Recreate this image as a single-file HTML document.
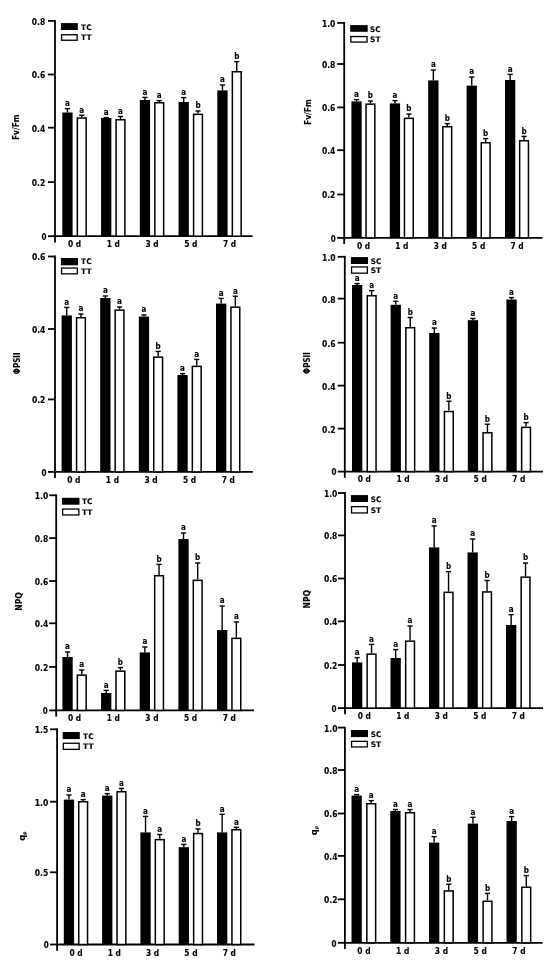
<!DOCTYPE html>
<html><head><meta charset="utf-8"><title>Chlorophyll fluorescence</title>
<style>
html,body{margin:0;padding:0;background:#fff;}
body{width:550px;height:962px;overflow:hidden;}
svg{display:block;}
.ax{stroke:#000;stroke-width:1.8;}
.eb{stroke:#000;stroke-width:1.4;}
text{font-family:"DejaVu Sans Condensed", "DejaVu Sans", "Liberation Sans", sans-serif;font-weight:bold;font-stretch:condensed;fill:#000;stroke:#000;stroke-width:0.1px;}
.tl{font-size:8px;}
.z{font-size:8px;text-anchor:end;}
.lt{font-size:8px;text-anchor:middle;}
.xl{font-size:8.5px;}
.lg{font-size:7.6px;}
.tt{font-size:8.6px;}
.sub{font-size:4.6px;}
</style></head>
<body>
<svg width="550" height="962" viewBox="0 0 550 962">
<rect width="550" height="962" fill="#fff"/>
<line x1="55.0" y1="20.00" x2="55.0" y2="242.40" class="ax"/>
<line x1="54.10" y1="236.2" x2="252.6" y2="236.2" class="ax"/>
<line x1="48.00" y1="236.20" x2="55.0" y2="236.20" class="ax"/>
<text x="46.60" y="240.00" class="tl z">0</text>
<line x1="48.00" y1="182.10" x2="55.0" y2="182.10" class="ax"/>
<text x="31.70" y="186.00" class="tl" textLength="13.5" lengthAdjust="spacingAndGlyphs">0.2</text>
<line x1="48.00" y1="127.70" x2="55.0" y2="127.70" class="ax"/>
<text x="31.70" y="131.60" class="tl" textLength="13.5" lengthAdjust="spacingAndGlyphs">0.4</text>
<line x1="48.00" y1="74.50" x2="55.0" y2="74.50" class="ax"/>
<text x="31.70" y="78.40" class="tl" textLength="13.5" lengthAdjust="spacingAndGlyphs">0.6</text>
<line x1="48.00" y1="20.90" x2="55.0" y2="20.90" class="ax"/>
<text x="31.70" y="24.80" class="tl" textLength="13.5" lengthAdjust="spacingAndGlyphs">0.8</text>
<rect x="62.30" y="112.50" width="10.3" height="123.70" fill="#000"/>
<rect x="77.35" y="118.05" width="8.80" height="118.15" fill="#fff" stroke="#000" stroke-width="1.5"/>
<line x1="67.45" y1="112.50" x2="67.45" y2="108.60" class="eb"/>
<line x1="64.85" y1="108.60" x2="70.05" y2="108.60" class="eb"/>
<text x="67.45" y="105.90" class="lt">a</text>
<line x1="81.75" y1="117.30" x2="81.75" y2="115.20" class="eb"/>
<line x1="79.15" y1="115.20" x2="84.35" y2="115.20" class="eb"/>
<text x="81.75" y="112.50" class="lt">a</text>
<text x="68.00" y="246.80" class="xl" textLength="13.2" lengthAdjust="spacingAndGlyphs">0 d</text>
<rect x="101.05" y="118.00" width="10.3" height="118.20" fill="#000"/>
<rect x="116.10" y="119.75" width="8.80" height="116.45" fill="#fff" stroke="#000" stroke-width="1.5"/>
<line x1="106.20" y1="118.00" x2="106.20" y2="117.60" class="eb"/>
<line x1="103.60" y1="117.60" x2="108.80" y2="117.60" class="eb"/>
<text x="106.20" y="114.90" class="lt">a</text>
<line x1="120.50" y1="119.00" x2="120.50" y2="116.45" class="eb"/>
<line x1="117.90" y1="116.45" x2="123.10" y2="116.45" class="eb"/>
<text x="120.50" y="113.75" class="lt">a</text>
<text x="106.75" y="246.80" class="xl" textLength="13.2" lengthAdjust="spacingAndGlyphs">1 d</text>
<rect x="139.80" y="100.00" width="10.3" height="136.20" fill="#000"/>
<rect x="154.85" y="102.75" width="8.80" height="133.45" fill="#fff" stroke="#000" stroke-width="1.5"/>
<line x1="144.95" y1="100.00" x2="144.95" y2="97.40" class="eb"/>
<line x1="142.35" y1="97.40" x2="147.55" y2="97.40" class="eb"/>
<text x="144.95" y="94.70" class="lt">a</text>
<line x1="159.25" y1="102.00" x2="159.25" y2="100.60" class="eb"/>
<line x1="156.65" y1="100.60" x2="161.85" y2="100.60" class="eb"/>
<text x="159.25" y="97.90" class="lt">a</text>
<text x="145.50" y="246.80" class="xl" textLength="13.2" lengthAdjust="spacingAndGlyphs">3 d</text>
<rect x="178.55" y="102.00" width="10.3" height="134.20" fill="#000"/>
<rect x="193.60" y="114.35" width="8.80" height="121.85" fill="#fff" stroke="#000" stroke-width="1.5"/>
<line x1="183.70" y1="102.00" x2="183.70" y2="97.60" class="eb"/>
<line x1="181.10" y1="97.60" x2="186.30" y2="97.60" class="eb"/>
<text x="183.70" y="94.90" class="lt">a</text>
<line x1="198.00" y1="113.60" x2="198.00" y2="111.00" class="eb"/>
<line x1="195.40" y1="111.00" x2="200.60" y2="111.00" class="eb"/>
<text x="198.00" y="108.30" class="lt">b</text>
<text x="184.25" y="246.80" class="xl" textLength="13.2" lengthAdjust="spacingAndGlyphs">5 d</text>
<rect x="217.30" y="90.40" width="10.3" height="145.80" fill="#000"/>
<rect x="232.35" y="71.75" width="8.80" height="164.45" fill="#fff" stroke="#000" stroke-width="1.5"/>
<line x1="222.45" y1="90.40" x2="222.45" y2="85.00" class="eb"/>
<line x1="219.85" y1="85.00" x2="225.05" y2="85.00" class="eb"/>
<text x="222.45" y="82.30" class="lt">a</text>
<line x1="236.75" y1="71.00" x2="236.75" y2="61.60" class="eb"/>
<line x1="234.15" y1="61.60" x2="239.35" y2="61.60" class="eb"/>
<text x="236.75" y="58.90" class="lt">b</text>
<text x="223.00" y="246.80" class="xl" textLength="13.2" lengthAdjust="spacingAndGlyphs">7 d</text>
<rect x="60.9" y="23.1" width="16.90" height="6.90" fill="#000"/>
<rect x="61.55" y="34.75" width="15.60" height="5.50" fill="#fff" stroke="#000" stroke-width="1.3"/>
<text x="81.10" y="29.8" class="lg" textLength="10.5" lengthAdjust="spacingAndGlyphs">TC</text>
<text x="81.10" y="40.2" class="lg" textLength="10.5" lengthAdjust="spacingAndGlyphs">TT</text>
<text transform="translate(19.30,127.25) rotate(-90)" x="-12.80" class="tt" textLength="25.6" lengthAdjust="spacingAndGlyphs">Fv/Fm</text>
<line x1="344.2" y1="22.00" x2="344.2" y2="244.10" class="ax"/>
<line x1="343.30" y1="237.9" x2="542.4" y2="237.9" class="ax"/>
<line x1="337.20" y1="237.90" x2="344.2" y2="237.90" class="ax"/>
<text x="335.80" y="241.70" class="tl z">0</text>
<line x1="337.20" y1="194.50" x2="344.2" y2="194.50" class="ax"/>
<text x="321.90" y="198.40" class="tl" textLength="13.5" lengthAdjust="spacingAndGlyphs">0.2</text>
<line x1="337.20" y1="150.20" x2="344.2" y2="150.20" class="ax"/>
<text x="321.90" y="154.10" class="tl" textLength="13.5" lengthAdjust="spacingAndGlyphs">0.4</text>
<line x1="337.20" y1="107.40" x2="344.2" y2="107.40" class="ax"/>
<text x="321.90" y="111.30" class="tl" textLength="13.5" lengthAdjust="spacingAndGlyphs">0.6</text>
<line x1="337.20" y1="64.00" x2="344.2" y2="64.00" class="ax"/>
<text x="321.90" y="67.90" class="tl" textLength="13.5" lengthAdjust="spacingAndGlyphs">0.8</text>
<line x1="337.20" y1="22.90" x2="344.2" y2="22.90" class="ax"/>
<text x="321.90" y="26.80" class="tl" textLength="13.5" lengthAdjust="spacingAndGlyphs">1.0</text>
<rect x="351.40" y="101.40" width="10.3" height="136.50" fill="#000"/>
<rect x="366.05" y="104.15" width="8.80" height="133.75" fill="#fff" stroke="#000" stroke-width="1.5"/>
<line x1="356.55" y1="101.40" x2="356.55" y2="99.60" class="eb"/>
<line x1="353.95" y1="99.60" x2="359.15" y2="99.60" class="eb"/>
<text x="356.55" y="96.90" class="lt">a</text>
<line x1="370.45" y1="103.40" x2="370.45" y2="101.00" class="eb"/>
<line x1="367.85" y1="101.00" x2="373.05" y2="101.00" class="eb"/>
<text x="370.45" y="98.30" class="lt">b</text>
<text x="356.90" y="248.50" class="xl" textLength="13.2" lengthAdjust="spacingAndGlyphs">0 d</text>
<rect x="389.80" y="103.40" width="10.3" height="134.50" fill="#000"/>
<rect x="404.45" y="118.35" width="8.80" height="119.55" fill="#fff" stroke="#000" stroke-width="1.5"/>
<line x1="394.95" y1="103.40" x2="394.95" y2="100.60" class="eb"/>
<line x1="392.35" y1="100.60" x2="397.55" y2="100.60" class="eb"/>
<text x="394.95" y="97.90" class="lt">a</text>
<line x1="408.85" y1="117.60" x2="408.85" y2="114.00" class="eb"/>
<line x1="406.25" y1="114.00" x2="411.45" y2="114.00" class="eb"/>
<text x="408.85" y="111.30" class="lt">b</text>
<text x="395.30" y="248.50" class="xl" textLength="13.2" lengthAdjust="spacingAndGlyphs">1 d</text>
<rect x="428.20" y="80.40" width="10.3" height="157.50" fill="#000"/>
<rect x="442.85" y="126.75" width="8.80" height="111.15" fill="#fff" stroke="#000" stroke-width="1.5"/>
<line x1="433.35" y1="80.40" x2="433.35" y2="70.00" class="eb"/>
<line x1="430.75" y1="70.00" x2="435.95" y2="70.00" class="eb"/>
<text x="433.35" y="67.30" class="lt">a</text>
<line x1="447.25" y1="126.00" x2="447.25" y2="123.60" class="eb"/>
<line x1="444.65" y1="123.60" x2="449.85" y2="123.60" class="eb"/>
<text x="447.25" y="120.90" class="lt">b</text>
<text x="433.70" y="248.50" class="xl" textLength="13.2" lengthAdjust="spacingAndGlyphs">3 d</text>
<rect x="466.60" y="85.60" width="10.3" height="152.30" fill="#000"/>
<rect x="481.25" y="142.75" width="8.80" height="95.15" fill="#fff" stroke="#000" stroke-width="1.5"/>
<line x1="471.75" y1="85.60" x2="471.75" y2="77.00" class="eb"/>
<line x1="469.15" y1="77.00" x2="474.35" y2="77.00" class="eb"/>
<text x="471.75" y="74.30" class="lt">a</text>
<line x1="485.65" y1="142.00" x2="485.65" y2="138.60" class="eb"/>
<line x1="483.05" y1="138.60" x2="488.25" y2="138.60" class="eb"/>
<text x="485.65" y="135.90" class="lt">b</text>
<text x="472.10" y="248.50" class="xl" textLength="13.2" lengthAdjust="spacingAndGlyphs">5 d</text>
<rect x="505.00" y="80.00" width="10.3" height="157.90" fill="#000"/>
<rect x="519.65" y="140.75" width="8.80" height="97.15" fill="#fff" stroke="#000" stroke-width="1.5"/>
<line x1="510.15" y1="80.00" x2="510.15" y2="74.40" class="eb"/>
<line x1="507.55" y1="74.40" x2="512.75" y2="74.40" class="eb"/>
<text x="510.15" y="71.70" class="lt">a</text>
<line x1="524.05" y1="140.00" x2="524.05" y2="136.40" class="eb"/>
<line x1="521.45" y1="136.40" x2="526.65" y2="136.40" class="eb"/>
<text x="524.05" y="133.70" class="lt">b</text>
<text x="510.50" y="248.50" class="xl" textLength="13.2" lengthAdjust="spacingAndGlyphs">7 d</text>
<rect x="350.2" y="25.1" width="17.50" height="6.70" fill="#000"/>
<rect x="350.85" y="36.55" width="16.20" height="5.50" fill="#fff" stroke="#000" stroke-width="1.3"/>
<text x="370.00" y="32.0" class="lg" textLength="10.5" lengthAdjust="spacingAndGlyphs">SC</text>
<text x="370.00" y="41.8" class="lg" textLength="10.5" lengthAdjust="spacingAndGlyphs">ST</text>
<text transform="translate(311.00,112.10) rotate(-90)" x="-12.80" class="tt" textLength="25.6" lengthAdjust="spacingAndGlyphs">Fv/Fm</text>
<line x1="55.0" y1="255.60" x2="55.0" y2="478.10" class="ax"/>
<line x1="54.10" y1="471.9" x2="252.9" y2="471.9" class="ax"/>
<line x1="48.00" y1="471.90" x2="55.0" y2="471.90" class="ax"/>
<text x="46.60" y="475.70" class="tl z">0</text>
<line x1="48.00" y1="399.40" x2="55.0" y2="399.40" class="ax"/>
<text x="31.90" y="403.30" class="tl" textLength="13.5" lengthAdjust="spacingAndGlyphs">0.2</text>
<line x1="48.00" y1="329.00" x2="55.0" y2="329.00" class="ax"/>
<text x="31.90" y="332.90" class="tl" textLength="13.5" lengthAdjust="spacingAndGlyphs">0.4</text>
<line x1="48.00" y1="256.50" x2="55.0" y2="256.50" class="ax"/>
<text x="31.90" y="260.40" class="tl" textLength="13.5" lengthAdjust="spacingAndGlyphs">0.6</text>
<rect x="61.60" y="315.40" width="10.3" height="156.50" fill="#000"/>
<rect x="76.55" y="317.75" width="8.80" height="154.15" fill="#fff" stroke="#000" stroke-width="1.5"/>
<line x1="66.75" y1="315.40" x2="66.75" y2="307.40" class="eb"/>
<line x1="64.15" y1="307.40" x2="69.35" y2="307.40" class="eb"/>
<text x="66.75" y="304.70" class="lt">a</text>
<line x1="80.95" y1="317.00" x2="80.95" y2="314.00" class="eb"/>
<line x1="78.35" y1="314.00" x2="83.55" y2="314.00" class="eb"/>
<text x="80.95" y="311.30" class="lt">a</text>
<text x="67.25" y="482.50" class="xl" textLength="13.2" lengthAdjust="spacingAndGlyphs">0 d</text>
<rect x="100.20" y="298.00" width="10.3" height="173.90" fill="#000"/>
<rect x="115.15" y="310.15" width="8.80" height="161.75" fill="#fff" stroke="#000" stroke-width="1.5"/>
<line x1="105.35" y1="298.00" x2="105.35" y2="296.00" class="eb"/>
<line x1="102.75" y1="296.00" x2="107.95" y2="296.00" class="eb"/>
<text x="105.35" y="293.30" class="lt">a</text>
<line x1="119.55" y1="309.40" x2="119.55" y2="307.00" class="eb"/>
<line x1="116.95" y1="307.00" x2="122.15" y2="307.00" class="eb"/>
<text x="119.55" y="304.30" class="lt">a</text>
<text x="105.85" y="482.50" class="xl" textLength="13.2" lengthAdjust="spacingAndGlyphs">1 d</text>
<rect x="138.80" y="316.60" width="10.3" height="155.30" fill="#000"/>
<rect x="153.75" y="357.15" width="8.80" height="114.75" fill="#fff" stroke="#000" stroke-width="1.5"/>
<line x1="143.95" y1="316.60" x2="143.95" y2="315.00" class="eb"/>
<line x1="141.35" y1="315.00" x2="146.55" y2="315.00" class="eb"/>
<text x="143.95" y="312.30" class="lt">a</text>
<line x1="158.15" y1="356.40" x2="158.15" y2="351.40" class="eb"/>
<line x1="155.55" y1="351.40" x2="160.75" y2="351.40" class="eb"/>
<text x="158.15" y="348.70" class="lt">b</text>
<text x="144.45" y="482.50" class="xl" textLength="13.2" lengthAdjust="spacingAndGlyphs">3 d</text>
<rect x="177.40" y="375.00" width="10.3" height="96.90" fill="#000"/>
<rect x="192.35" y="366.35" width="8.80" height="105.55" fill="#fff" stroke="#000" stroke-width="1.5"/>
<line x1="182.55" y1="375.00" x2="182.55" y2="373.60" class="eb"/>
<line x1="179.95" y1="373.60" x2="185.15" y2="373.60" class="eb"/>
<text x="182.55" y="370.90" class="lt">a</text>
<line x1="196.75" y1="365.60" x2="196.75" y2="359.40" class="eb"/>
<line x1="194.15" y1="359.40" x2="199.35" y2="359.40" class="eb"/>
<text x="196.75" y="356.70" class="lt">a</text>
<text x="183.05" y="482.50" class="xl" textLength="13.2" lengthAdjust="spacingAndGlyphs">5 d</text>
<rect x="216.00" y="303.60" width="10.3" height="168.30" fill="#000"/>
<rect x="230.95" y="307.15" width="8.80" height="164.75" fill="#fff" stroke="#000" stroke-width="1.5"/>
<line x1="221.15" y1="303.60" x2="221.15" y2="298.40" class="eb"/>
<line x1="218.55" y1="298.40" x2="223.75" y2="298.40" class="eb"/>
<text x="221.15" y="295.70" class="lt">a</text>
<line x1="235.35" y1="306.40" x2="235.35" y2="296.20" class="eb"/>
<line x1="232.75" y1="296.20" x2="237.95" y2="296.20" class="eb"/>
<text x="235.35" y="293.50" class="lt">a</text>
<text x="221.65" y="482.50" class="xl" textLength="13.2" lengthAdjust="spacingAndGlyphs">7 d</text>
<rect x="60.9" y="258.0" width="17.10" height="7.30" fill="#000"/>
<rect x="61.55" y="268.05" width="15.80" height="5.80" fill="#fff" stroke="#000" stroke-width="1.3"/>
<text x="81.10" y="264.0" class="lg" textLength="10.5" lengthAdjust="spacingAndGlyphs">TC</text>
<text x="81.10" y="273.8" class="lg" textLength="10.5" lengthAdjust="spacingAndGlyphs">TT</text>
<text transform="translate(19.80,363.30) rotate(-90)" x="-10.90" class="tt" textLength="21.8" lengthAdjust="spacingAndGlyphs">ΦPSII</text>
<line x1="344.8" y1="255.90" x2="344.8" y2="477.80" class="ax"/>
<line x1="343.90" y1="471.6" x2="543" y2="471.6" class="ax"/>
<line x1="337.80" y1="471.60" x2="344.8" y2="471.60" class="ax"/>
<text x="336.40" y="475.40" class="tl z">0</text>
<line x1="337.80" y1="428.60" x2="344.8" y2="428.60" class="ax"/>
<text x="322.10" y="432.50" class="tl" textLength="13.5" lengthAdjust="spacingAndGlyphs">0.2</text>
<line x1="337.80" y1="385.60" x2="344.8" y2="385.60" class="ax"/>
<text x="322.10" y="389.50" class="tl" textLength="13.5" lengthAdjust="spacingAndGlyphs">0.4</text>
<line x1="337.80" y1="342.70" x2="344.8" y2="342.70" class="ax"/>
<text x="322.10" y="346.60" class="tl" textLength="13.5" lengthAdjust="spacingAndGlyphs">0.6</text>
<line x1="337.80" y1="298.60" x2="344.8" y2="298.60" class="ax"/>
<text x="322.10" y="302.50" class="tl" textLength="13.5" lengthAdjust="spacingAndGlyphs">0.8</text>
<line x1="337.80" y1="256.80" x2="344.8" y2="256.80" class="ax"/>
<text x="322.10" y="260.70" class="tl" textLength="13.5" lengthAdjust="spacingAndGlyphs">1.0</text>
<rect x="352.00" y="285.00" width="10.3" height="186.60" fill="#000"/>
<rect x="367.25" y="295.75" width="8.80" height="175.85" fill="#fff" stroke="#000" stroke-width="1.5"/>
<line x1="357.15" y1="285.00" x2="357.15" y2="283.60" class="eb"/>
<line x1="354.55" y1="283.60" x2="359.75" y2="283.60" class="eb"/>
<text x="357.15" y="280.90" class="lt">a</text>
<line x1="371.65" y1="295.00" x2="371.65" y2="290.60" class="eb"/>
<line x1="369.05" y1="290.60" x2="374.25" y2="290.60" class="eb"/>
<text x="371.65" y="287.90" class="lt">a</text>
<text x="357.80" y="482.20" class="xl" textLength="13.2" lengthAdjust="spacingAndGlyphs">0 d</text>
<rect x="390.60" y="304.80" width="10.3" height="166.80" fill="#000"/>
<rect x="405.85" y="327.75" width="8.80" height="143.85" fill="#fff" stroke="#000" stroke-width="1.5"/>
<line x1="395.75" y1="304.80" x2="395.75" y2="301.20" class="eb"/>
<line x1="393.15" y1="301.20" x2="398.35" y2="301.20" class="eb"/>
<text x="395.75" y="298.50" class="lt">a</text>
<line x1="410.25" y1="327.00" x2="410.25" y2="317.50" class="eb"/>
<line x1="407.65" y1="317.50" x2="412.85" y2="317.50" class="eb"/>
<text x="410.25" y="314.80" class="lt">b</text>
<text x="396.40" y="482.20" class="xl" textLength="13.2" lengthAdjust="spacingAndGlyphs">1 d</text>
<rect x="429.20" y="333.00" width="10.3" height="138.60" fill="#000"/>
<rect x="444.45" y="411.55" width="8.80" height="60.05" fill="#fff" stroke="#000" stroke-width="1.5"/>
<line x1="434.35" y1="333.00" x2="434.35" y2="328.00" class="eb"/>
<line x1="431.75" y1="328.00" x2="436.95" y2="328.00" class="eb"/>
<text x="434.35" y="325.30" class="lt">a</text>
<line x1="448.85" y1="410.80" x2="448.85" y2="401.20" class="eb"/>
<line x1="446.25" y1="401.20" x2="451.45" y2="401.20" class="eb"/>
<text x="448.85" y="398.50" class="lt">b</text>
<text x="435.00" y="482.20" class="xl" textLength="13.2" lengthAdjust="spacingAndGlyphs">3 d</text>
<rect x="467.80" y="320.20" width="10.3" height="151.40" fill="#000"/>
<rect x="483.05" y="432.75" width="8.80" height="38.85" fill="#fff" stroke="#000" stroke-width="1.5"/>
<line x1="472.95" y1="320.20" x2="472.95" y2="318.50" class="eb"/>
<line x1="470.35" y1="318.50" x2="475.55" y2="318.50" class="eb"/>
<text x="472.95" y="315.80" class="lt">a</text>
<line x1="487.45" y1="432.00" x2="487.45" y2="424.20" class="eb"/>
<line x1="484.85" y1="424.20" x2="490.05" y2="424.20" class="eb"/>
<text x="487.45" y="421.50" class="lt">b</text>
<text x="473.60" y="482.20" class="xl" textLength="13.2" lengthAdjust="spacingAndGlyphs">5 d</text>
<rect x="506.40" y="299.50" width="10.3" height="172.10" fill="#000"/>
<rect x="521.65" y="427.35" width="8.80" height="44.25" fill="#fff" stroke="#000" stroke-width="1.5"/>
<line x1="511.55" y1="299.50" x2="511.55" y2="297.60" class="eb"/>
<line x1="508.95" y1="297.60" x2="514.15" y2="297.60" class="eb"/>
<text x="511.55" y="294.90" class="lt">a</text>
<line x1="526.05" y1="426.60" x2="526.05" y2="422.60" class="eb"/>
<line x1="523.45" y1="422.60" x2="528.65" y2="422.60" class="eb"/>
<text x="526.05" y="419.90" class="lt">b</text>
<text x="512.20" y="482.20" class="xl" textLength="13.2" lengthAdjust="spacingAndGlyphs">7 d</text>
<rect x="350.9" y="257.1" width="17.10" height="6.90" fill="#000"/>
<rect x="351.55" y="266.95" width="15.80" height="6.20" fill="#fff" stroke="#000" stroke-width="1.3"/>
<text x="370.70" y="263.8" class="lg" textLength="10.5" lengthAdjust="spacingAndGlyphs">SC</text>
<text x="370.70" y="272.7" class="lg" textLength="10.5" lengthAdjust="spacingAndGlyphs">ST</text>
<text transform="translate(310.00,363.00) rotate(-90)" x="-10.90" class="tt" textLength="21.8" lengthAdjust="spacingAndGlyphs">ΦPSII</text>
<line x1="56.2" y1="494.40" x2="56.2" y2="716.60" class="ax"/>
<line x1="55.30" y1="710.4" x2="254" y2="710.4" class="ax"/>
<line x1="49.20" y1="710.40" x2="56.2" y2="710.40" class="ax"/>
<text x="47.80" y="714.20" class="tl z">0</text>
<line x1="49.20" y1="666.90" x2="56.2" y2="666.90" class="ax"/>
<text x="34.70" y="670.80" class="tl" textLength="13.5" lengthAdjust="spacingAndGlyphs">0.2</text>
<line x1="49.20" y1="623.30" x2="56.2" y2="623.30" class="ax"/>
<text x="34.70" y="627.20" class="tl" textLength="13.5" lengthAdjust="spacingAndGlyphs">0.4</text>
<line x1="49.20" y1="581.00" x2="56.2" y2="581.00" class="ax"/>
<text x="34.70" y="584.90" class="tl" textLength="13.5" lengthAdjust="spacingAndGlyphs">0.6</text>
<line x1="49.20" y1="538.10" x2="56.2" y2="538.10" class="ax"/>
<text x="34.70" y="542.00" class="tl" textLength="13.5" lengthAdjust="spacingAndGlyphs">0.8</text>
<line x1="49.20" y1="495.30" x2="56.2" y2="495.30" class="ax"/>
<text x="34.70" y="499.20" class="tl" textLength="13.5" lengthAdjust="spacingAndGlyphs">1.0</text>
<rect x="62.40" y="657.00" width="10.3" height="53.40" fill="#000"/>
<rect x="77.35" y="675.15" width="8.80" height="35.25" fill="#fff" stroke="#000" stroke-width="1.5"/>
<line x1="67.55" y1="657.00" x2="67.55" y2="652.00" class="eb"/>
<line x1="64.95" y1="652.00" x2="70.15" y2="652.00" class="eb"/>
<text x="67.55" y="649.30" class="lt">a</text>
<line x1="81.75" y1="674.40" x2="81.75" y2="670.00" class="eb"/>
<line x1="79.15" y1="670.00" x2="84.35" y2="670.00" class="eb"/>
<text x="81.75" y="667.30" class="lt">a</text>
<text x="68.05" y="721.00" class="xl" textLength="13.2" lengthAdjust="spacingAndGlyphs">0 d</text>
<rect x="101.05" y="693.00" width="10.3" height="17.40" fill="#000"/>
<rect x="116.00" y="671.15" width="8.80" height="39.25" fill="#fff" stroke="#000" stroke-width="1.5"/>
<line x1="106.20" y1="693.00" x2="106.20" y2="690.40" class="eb"/>
<line x1="103.60" y1="690.40" x2="108.80" y2="690.40" class="eb"/>
<text x="106.20" y="687.70" class="lt">a</text>
<line x1="120.40" y1="670.40" x2="120.40" y2="667.60" class="eb"/>
<line x1="117.80" y1="667.60" x2="123.00" y2="667.60" class="eb"/>
<text x="120.40" y="664.90" class="lt">b</text>
<text x="106.70" y="721.00" class="xl" textLength="13.2" lengthAdjust="spacingAndGlyphs">1 d</text>
<rect x="139.70" y="652.40" width="10.3" height="58.00" fill="#000"/>
<rect x="154.65" y="575.75" width="8.80" height="134.65" fill="#fff" stroke="#000" stroke-width="1.5"/>
<line x1="144.85" y1="652.40" x2="144.85" y2="647.00" class="eb"/>
<line x1="142.25" y1="647.00" x2="147.45" y2="647.00" class="eb"/>
<text x="144.85" y="644.30" class="lt">a</text>
<line x1="159.05" y1="575.00" x2="159.05" y2="564.40" class="eb"/>
<line x1="156.45" y1="564.40" x2="161.65" y2="564.40" class="eb"/>
<text x="159.05" y="561.70" class="lt">b</text>
<text x="145.35" y="721.00" class="xl" textLength="13.2" lengthAdjust="spacingAndGlyphs">3 d</text>
<rect x="178.35" y="539.00" width="10.3" height="171.40" fill="#000"/>
<rect x="193.30" y="580.35" width="8.80" height="130.05" fill="#fff" stroke="#000" stroke-width="1.5"/>
<line x1="183.50" y1="539.00" x2="183.50" y2="533.00" class="eb"/>
<line x1="180.90" y1="533.00" x2="186.10" y2="533.00" class="eb"/>
<text x="183.50" y="530.30" class="lt">a</text>
<line x1="197.70" y1="579.60" x2="197.70" y2="563.00" class="eb"/>
<line x1="195.10" y1="563.00" x2="200.30" y2="563.00" class="eb"/>
<text x="197.70" y="560.30" class="lt">b</text>
<text x="184.00" y="721.00" class="xl" textLength="13.2" lengthAdjust="spacingAndGlyphs">5 d</text>
<rect x="217.00" y="630.00" width="10.3" height="80.40" fill="#000"/>
<rect x="231.95" y="638.35" width="8.80" height="72.05" fill="#fff" stroke="#000" stroke-width="1.5"/>
<line x1="222.15" y1="630.00" x2="222.15" y2="606.00" class="eb"/>
<line x1="219.55" y1="606.00" x2="224.75" y2="606.00" class="eb"/>
<text x="222.15" y="603.30" class="lt">a</text>
<line x1="236.35" y1="637.60" x2="236.35" y2="622.00" class="eb"/>
<line x1="233.75" y1="622.00" x2="238.95" y2="622.00" class="eb"/>
<text x="236.35" y="619.30" class="lt">a</text>
<text x="222.65" y="721.00" class="xl" textLength="13.2" lengthAdjust="spacingAndGlyphs">7 d</text>
<rect x="62.0" y="497.8" width="17.50" height="6.90" fill="#000"/>
<rect x="62.65" y="509.05" width="16.20" height="5.90" fill="#fff" stroke="#000" stroke-width="1.3"/>
<text x="82.00" y="504.4" class="lg" textLength="10.5" lengthAdjust="spacingAndGlyphs">TC</text>
<text x="82.00" y="514.5" class="lg" textLength="10.5" lengthAdjust="spacingAndGlyphs">TT</text>
<text transform="translate(21.70,601.50) rotate(-90)" x="-9.30" class="tt" textLength="18.6" lengthAdjust="spacingAndGlyphs">NPQ</text>
<line x1="345.0" y1="492.10" x2="345.0" y2="714.30" class="ax"/>
<line x1="344.10" y1="708.1" x2="543" y2="708.1" class="ax"/>
<line x1="338.00" y1="708.10" x2="345.0" y2="708.10" class="ax"/>
<text x="336.60" y="711.90" class="tl z">0</text>
<line x1="338.00" y1="665.00" x2="345.0" y2="665.00" class="ax"/>
<text x="323.90" y="668.90" class="tl" textLength="13.5" lengthAdjust="spacingAndGlyphs">0.2</text>
<line x1="338.00" y1="621.30" x2="345.0" y2="621.30" class="ax"/>
<text x="323.90" y="625.20" class="tl" textLength="13.5" lengthAdjust="spacingAndGlyphs">0.4</text>
<line x1="338.00" y1="578.50" x2="345.0" y2="578.50" class="ax"/>
<text x="323.90" y="582.40" class="tl" textLength="13.5" lengthAdjust="spacingAndGlyphs">0.6</text>
<line x1="338.00" y1="535.40" x2="345.0" y2="535.40" class="ax"/>
<text x="323.90" y="539.30" class="tl" textLength="13.5" lengthAdjust="spacingAndGlyphs">0.8</text>
<line x1="338.00" y1="493.00" x2="345.0" y2="493.00" class="ax"/>
<text x="323.90" y="496.90" class="tl" textLength="13.5" lengthAdjust="spacingAndGlyphs">1.0</text>
<rect x="352.00" y="662.40" width="10.3" height="45.70" fill="#000"/>
<rect x="367.15" y="654.15" width="8.80" height="53.95" fill="#fff" stroke="#000" stroke-width="1.5"/>
<line x1="357.15" y1="662.40" x2="357.15" y2="657.60" class="eb"/>
<line x1="354.55" y1="657.60" x2="359.75" y2="657.60" class="eb"/>
<text x="357.15" y="654.90" class="lt">a</text>
<line x1="371.55" y1="653.40" x2="371.55" y2="644.40" class="eb"/>
<line x1="368.95" y1="644.40" x2="374.15" y2="644.40" class="eb"/>
<text x="371.55" y="641.70" class="lt">a</text>
<text x="357.75" y="718.70" class="xl" textLength="13.2" lengthAdjust="spacingAndGlyphs">0 d</text>
<rect x="390.50" y="658.00" width="10.3" height="50.10" fill="#000"/>
<rect x="405.65" y="641.15" width="8.80" height="66.95" fill="#fff" stroke="#000" stroke-width="1.5"/>
<line x1="395.65" y1="658.00" x2="395.65" y2="649.60" class="eb"/>
<line x1="393.05" y1="649.60" x2="398.25" y2="649.60" class="eb"/>
<text x="395.65" y="646.90" class="lt">a</text>
<line x1="410.05" y1="640.40" x2="410.05" y2="626.00" class="eb"/>
<line x1="407.45" y1="626.00" x2="412.65" y2="626.00" class="eb"/>
<text x="410.05" y="623.30" class="lt">a</text>
<text x="396.25" y="718.70" class="xl" textLength="13.2" lengthAdjust="spacingAndGlyphs">1 d</text>
<rect x="429.00" y="547.40" width="10.3" height="160.70" fill="#000"/>
<rect x="444.15" y="592.35" width="8.80" height="115.75" fill="#fff" stroke="#000" stroke-width="1.5"/>
<line x1="434.15" y1="547.40" x2="434.15" y2="526.00" class="eb"/>
<line x1="431.55" y1="526.00" x2="436.75" y2="526.00" class="eb"/>
<text x="434.15" y="523.30" class="lt">a</text>
<line x1="448.55" y1="591.60" x2="448.55" y2="571.60" class="eb"/>
<line x1="445.95" y1="571.60" x2="451.15" y2="571.60" class="eb"/>
<text x="448.55" y="568.90" class="lt">b</text>
<text x="434.75" y="718.70" class="xl" textLength="13.2" lengthAdjust="spacingAndGlyphs">3 d</text>
<rect x="467.50" y="552.40" width="10.3" height="155.70" fill="#000"/>
<rect x="482.65" y="591.95" width="8.80" height="116.15" fill="#fff" stroke="#000" stroke-width="1.5"/>
<line x1="472.65" y1="552.40" x2="472.65" y2="539.00" class="eb"/>
<line x1="470.05" y1="539.00" x2="475.25" y2="539.00" class="eb"/>
<text x="472.65" y="536.30" class="lt">a</text>
<line x1="487.05" y1="591.20" x2="487.05" y2="580.50" class="eb"/>
<line x1="484.45" y1="580.50" x2="489.65" y2="580.50" class="eb"/>
<text x="487.05" y="577.80" class="lt">b</text>
<text x="473.25" y="718.70" class="xl" textLength="13.2" lengthAdjust="spacingAndGlyphs">5 d</text>
<rect x="506.00" y="625.00" width="10.3" height="83.10" fill="#000"/>
<rect x="521.15" y="577.15" width="8.80" height="130.95" fill="#fff" stroke="#000" stroke-width="1.5"/>
<line x1="511.15" y1="625.00" x2="511.15" y2="614.60" class="eb"/>
<line x1="508.55" y1="614.60" x2="513.75" y2="614.60" class="eb"/>
<text x="511.15" y="611.90" class="lt">a</text>
<line x1="525.55" y1="576.40" x2="525.55" y2="563.00" class="eb"/>
<line x1="522.95" y1="563.00" x2="528.15" y2="563.00" class="eb"/>
<text x="525.55" y="560.30" class="lt">b</text>
<text x="511.75" y="718.70" class="xl" textLength="13.2" lengthAdjust="spacingAndGlyphs">7 d</text>
<rect x="350.9" y="495.1" width="17.10" height="6.90" fill="#000"/>
<rect x="351.55" y="506.65" width="15.80" height="6.30" fill="#fff" stroke="#000" stroke-width="1.3"/>
<text x="370.70" y="502.0" class="lg" textLength="10.5" lengthAdjust="spacingAndGlyphs">SC</text>
<text x="370.70" y="512.5" class="lg" textLength="10.5" lengthAdjust="spacingAndGlyphs">ST</text>
<text transform="translate(309.70,599.20) rotate(-90)" x="-9.30" class="tt" textLength="18.6" lengthAdjust="spacingAndGlyphs">NPQ</text>
<line x1="57.1" y1="728.40" x2="57.1" y2="950.70" class="ax"/>
<line x1="56.20" y1="944.5" x2="254.5" y2="944.5" class="ax"/>
<line x1="50.10" y1="944.50" x2="57.1" y2="944.50" class="ax"/>
<text x="48.70" y="948.30" class="tl z">0</text>
<line x1="50.10" y1="872.30" x2="57.1" y2="872.30" class="ax"/>
<text x="34.80" y="876.20" class="tl" textLength="13.5" lengthAdjust="spacingAndGlyphs">0.5</text>
<line x1="50.10" y1="801.70" x2="57.1" y2="801.70" class="ax"/>
<text x="34.80" y="805.60" class="tl" textLength="13.5" lengthAdjust="spacingAndGlyphs">1.0</text>
<line x1="50.10" y1="729.30" x2="57.1" y2="729.30" class="ax"/>
<text x="34.80" y="733.20" class="tl" textLength="13.5" lengthAdjust="spacingAndGlyphs">1.5</text>
<rect x="63.80" y="799.60" width="10.3" height="144.90" fill="#000"/>
<rect x="78.75" y="801.75" width="8.80" height="142.75" fill="#fff" stroke="#000" stroke-width="1.5"/>
<line x1="68.95" y1="799.60" x2="68.95" y2="795.00" class="eb"/>
<line x1="66.35" y1="795.00" x2="71.55" y2="795.00" class="eb"/>
<text x="68.95" y="792.30" class="lt">a</text>
<line x1="83.15" y1="801.00" x2="83.15" y2="799.60" class="eb"/>
<line x1="80.55" y1="799.60" x2="85.75" y2="799.60" class="eb"/>
<text x="83.15" y="796.90" class="lt">a</text>
<text x="69.45" y="955.60" class="xl" textLength="13.2" lengthAdjust="spacingAndGlyphs">0 d</text>
<rect x="102.10" y="795.60" width="10.3" height="148.90" fill="#000"/>
<rect x="117.05" y="791.75" width="8.80" height="152.75" fill="#fff" stroke="#000" stroke-width="1.5"/>
<line x1="107.25" y1="795.60" x2="107.25" y2="793.60" class="eb"/>
<line x1="104.65" y1="793.60" x2="109.85" y2="793.60" class="eb"/>
<text x="107.25" y="790.90" class="lt">a</text>
<line x1="121.45" y1="791.00" x2="121.45" y2="788.40" class="eb"/>
<line x1="118.85" y1="788.40" x2="124.05" y2="788.40" class="eb"/>
<text x="121.45" y="785.70" class="lt">a</text>
<text x="107.75" y="955.60" class="xl" textLength="13.2" lengthAdjust="spacingAndGlyphs">1 d</text>
<rect x="140.40" y="832.40" width="10.3" height="112.10" fill="#000"/>
<rect x="155.35" y="839.65" width="8.80" height="104.85" fill="#fff" stroke="#000" stroke-width="1.5"/>
<line x1="145.55" y1="832.40" x2="145.55" y2="816.40" class="eb"/>
<line x1="142.95" y1="816.40" x2="148.15" y2="816.40" class="eb"/>
<text x="145.55" y="813.70" class="lt">a</text>
<line x1="159.75" y1="838.90" x2="159.75" y2="834.50" class="eb"/>
<line x1="157.15" y1="834.50" x2="162.35" y2="834.50" class="eb"/>
<text x="159.75" y="831.80" class="lt">a</text>
<text x="146.05" y="955.60" class="xl" textLength="13.2" lengthAdjust="spacingAndGlyphs">3 d</text>
<rect x="178.70" y="847.20" width="10.3" height="97.30" fill="#000"/>
<rect x="193.65" y="833.55" width="8.80" height="110.95" fill="#fff" stroke="#000" stroke-width="1.5"/>
<line x1="183.85" y1="847.20" x2="183.85" y2="844.40" class="eb"/>
<line x1="181.25" y1="844.40" x2="186.45" y2="844.40" class="eb"/>
<text x="183.85" y="841.70" class="lt">a</text>
<line x1="198.05" y1="832.80" x2="198.05" y2="829.00" class="eb"/>
<line x1="195.45" y1="829.00" x2="200.65" y2="829.00" class="eb"/>
<text x="198.05" y="826.30" class="lt">b</text>
<text x="184.35" y="955.60" class="xl" textLength="13.2" lengthAdjust="spacingAndGlyphs">5 d</text>
<rect x="217.00" y="832.40" width="10.3" height="112.10" fill="#000"/>
<rect x="231.95" y="829.75" width="8.80" height="114.75" fill="#fff" stroke="#000" stroke-width="1.5"/>
<line x1="222.15" y1="832.40" x2="222.15" y2="814.30" class="eb"/>
<line x1="219.55" y1="814.30" x2="224.75" y2="814.30" class="eb"/>
<text x="222.15" y="811.60" class="lt">a</text>
<line x1="236.35" y1="829.00" x2="236.35" y2="827.30" class="eb"/>
<line x1="233.75" y1="827.30" x2="238.95" y2="827.30" class="eb"/>
<text x="236.35" y="824.60" class="lt">a</text>
<text x="222.65" y="955.60" class="xl" textLength="13.2" lengthAdjust="spacingAndGlyphs">7 d</text>
<rect x="62.7" y="732.0" width="17.10" height="7.10" fill="#000"/>
<rect x="63.35" y="743.25" width="15.80" height="6.10" fill="#fff" stroke="#000" stroke-width="1.3"/>
<text x="83.10" y="738.5" class="lg" textLength="10.5" lengthAdjust="spacingAndGlyphs">TC</text>
<text x="83.10" y="748.5" class="lg" textLength="10.5" lengthAdjust="spacingAndGlyphs">TT</text>
<text transform="translate(25.00,836.00) rotate(-90)" class="tt" text-anchor="middle">q<tspan class="sub" dx="0.5" dy="1.1">p</tspan></text>
<line x1="344.9" y1="726.70" x2="344.9" y2="949.00" class="ax"/>
<line x1="344.00" y1="942.8" x2="542.6" y2="942.8" class="ax"/>
<line x1="337.90" y1="942.80" x2="344.9" y2="942.80" class="ax"/>
<text x="336.50" y="946.60" class="tl z">0</text>
<line x1="337.90" y1="899.30" x2="344.9" y2="899.30" class="ax"/>
<text x="324.00" y="903.20" class="tl" textLength="13.5" lengthAdjust="spacingAndGlyphs">0.2</text>
<line x1="337.90" y1="855.90" x2="344.9" y2="855.90" class="ax"/>
<text x="324.00" y="859.80" class="tl" textLength="13.5" lengthAdjust="spacingAndGlyphs">0.4</text>
<line x1="337.90" y1="813.50" x2="344.9" y2="813.50" class="ax"/>
<text x="324.00" y="817.40" class="tl" textLength="13.5" lengthAdjust="spacingAndGlyphs">0.6</text>
<line x1="337.90" y1="770.00" x2="344.9" y2="770.00" class="ax"/>
<text x="324.00" y="773.90" class="tl" textLength="13.5" lengthAdjust="spacingAndGlyphs">0.8</text>
<line x1="337.90" y1="727.60" x2="344.9" y2="727.60" class="ax"/>
<text x="324.00" y="731.50" class="tl" textLength="13.5" lengthAdjust="spacingAndGlyphs">1.0</text>
<rect x="351.50" y="795.60" width="10.3" height="147.20" fill="#000"/>
<rect x="366.85" y="803.75" width="8.80" height="139.05" fill="#fff" stroke="#000" stroke-width="1.5"/>
<line x1="356.65" y1="795.60" x2="356.65" y2="794.60" class="eb"/>
<line x1="354.05" y1="794.60" x2="359.25" y2="794.60" class="eb"/>
<text x="356.65" y="791.90" class="lt">a</text>
<line x1="371.25" y1="803.00" x2="371.25" y2="800.60" class="eb"/>
<line x1="368.65" y1="800.60" x2="373.85" y2="800.60" class="eb"/>
<text x="371.25" y="797.90" class="lt">a</text>
<text x="357.35" y="954.40" class="xl" textLength="13.2" lengthAdjust="spacingAndGlyphs">0 d</text>
<rect x="390.25" y="811.00" width="10.3" height="131.80" fill="#000"/>
<rect x="405.60" y="812.75" width="8.80" height="130.05" fill="#fff" stroke="#000" stroke-width="1.5"/>
<line x1="395.40" y1="811.00" x2="395.40" y2="809.50" class="eb"/>
<line x1="392.80" y1="809.50" x2="398.00" y2="809.50" class="eb"/>
<text x="395.40" y="806.80" class="lt">a</text>
<line x1="410.00" y1="812.00" x2="410.00" y2="809.60" class="eb"/>
<line x1="407.40" y1="809.60" x2="412.60" y2="809.60" class="eb"/>
<text x="410.00" y="806.90" class="lt">a</text>
<text x="396.10" y="954.40" class="xl" textLength="13.2" lengthAdjust="spacingAndGlyphs">1 d</text>
<rect x="429.00" y="842.60" width="10.3" height="100.20" fill="#000"/>
<rect x="444.35" y="890.95" width="8.80" height="51.85" fill="#fff" stroke="#000" stroke-width="1.5"/>
<line x1="434.15" y1="842.60" x2="434.15" y2="836.60" class="eb"/>
<line x1="431.55" y1="836.60" x2="436.75" y2="836.60" class="eb"/>
<text x="434.15" y="833.90" class="lt">a</text>
<line x1="448.75" y1="890.20" x2="448.75" y2="884.20" class="eb"/>
<line x1="446.15" y1="884.20" x2="451.35" y2="884.20" class="eb"/>
<text x="448.75" y="881.50" class="lt">b</text>
<text x="434.85" y="954.40" class="xl" textLength="13.2" lengthAdjust="spacingAndGlyphs">3 d</text>
<rect x="467.75" y="823.60" width="10.3" height="119.20" fill="#000"/>
<rect x="483.10" y="901.25" width="8.80" height="41.55" fill="#fff" stroke="#000" stroke-width="1.5"/>
<line x1="472.90" y1="823.60" x2="472.90" y2="817.30" class="eb"/>
<line x1="470.30" y1="817.30" x2="475.50" y2="817.30" class="eb"/>
<text x="472.90" y="814.60" class="lt">a</text>
<line x1="487.50" y1="900.50" x2="487.50" y2="893.40" class="eb"/>
<line x1="484.90" y1="893.40" x2="490.10" y2="893.40" class="eb"/>
<text x="487.50" y="890.70" class="lt">b</text>
<text x="473.60" y="954.40" class="xl" textLength="13.2" lengthAdjust="spacingAndGlyphs">5 d</text>
<rect x="506.50" y="821.00" width="10.3" height="121.80" fill="#000"/>
<rect x="521.85" y="887.25" width="8.80" height="55.55" fill="#fff" stroke="#000" stroke-width="1.5"/>
<line x1="511.65" y1="821.00" x2="511.65" y2="816.60" class="eb"/>
<line x1="509.05" y1="816.60" x2="514.25" y2="816.60" class="eb"/>
<text x="511.65" y="813.90" class="lt">a</text>
<line x1="526.25" y1="886.50" x2="526.25" y2="875.60" class="eb"/>
<line x1="523.65" y1="875.60" x2="528.85" y2="875.60" class="eb"/>
<text x="526.25" y="872.90" class="lt">b</text>
<text x="512.35" y="954.40" class="xl" textLength="13.2" lengthAdjust="spacingAndGlyphs">7 d</text>
<rect x="350.9" y="730.0" width="17.10" height="7.10" fill="#000"/>
<rect x="351.55" y="741.35" width="15.80" height="5.60" fill="#fff" stroke="#000" stroke-width="1.3"/>
<text x="370.70" y="736.9" class="lg" textLength="10.5" lengthAdjust="spacingAndGlyphs">SC</text>
<text x="370.70" y="746.9" class="lg" textLength="10.5" lengthAdjust="spacingAndGlyphs">ST</text>
<text transform="translate(316.80,830.50) rotate(-90)" class="tt" text-anchor="middle">q<tspan class="sub" dx="0.5" dy="1.1">p</tspan></text>
</svg>
</body></html>
